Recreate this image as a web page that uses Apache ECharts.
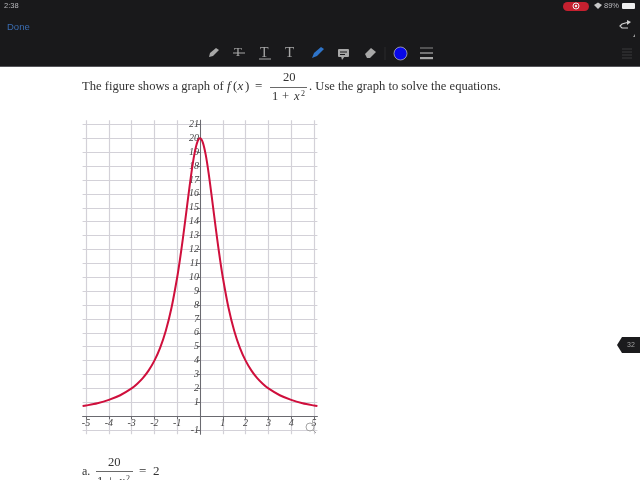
<!DOCTYPE html>
<html>
<head>
<meta charset="utf-8">
<script src="https://cdn.jsdelivr.net/npm/echarts@6/dist/echarts.min.js"></script>
<style>
html, body { margin: 0; padding: 0; background: #fff; }
#main { width: 640px; height: 480px; }
</style>
</head>
<body>
<div id="main"></div>
<script>
var xValues = [-5.15, -5, -4.5, -4, -3.5, -3, -2.75, -2.5, -2.25, -2, -1.75, -1.5, -1.25, -1, -0.875, -0.75, -0.625, -0.5, -0.375, -0.25, -0.125, 0,
  0.125, 0.25, 0.375, 0.5, 0.625, 0.75, 0.875, 1, 1.25, 1.5, 1.75, 2, 2.25, 2.5, 2.75, 3, 3.5, 4, 4.5, 5, 5.15]
var yValues = [0.73, 0.77, 0.94, 1.18, 1.51, 2, 2.34, 2.76, 3.3, 4, 4.92, 6.15, 7.8, 10, 11.33, 12.8, 14.38, 16, 17.53, 18.82, 19.69, 20,
  19.69, 18.82, 17.53, 16, 14.38, 12.8, 11.33, 10, 7.8, 6.15, 4.92, 4, 3.3, 2.76, 2.34, 2, 1.51, 1.18, 0.94, 0.77, 0.73]
var xTicks = [-5, -4, -3, -2, -1, 0, 1, 2, 3, 4, 5]
var xLabels = [-5, -4, -3, -2, -1, 1, 2, 3, 4, 5]
var yTicks = [-1, 0, 1, 2, 3, 4, 5, 6, 7, 8, 9, 10, 11, 12, 13, 14, 15, 16, 17, 18, 19, 20, 21]
var yLabels = [-1, 1, 2, 3, 4, 5, 6, 7, 8, 9, 10, 11, 12, 13, 14, 15, 16, 17, 18, 19, 20, 21]

var serif = "'Liberation Serif', serif"
var sans = "'Liberation Sans', sans-serif"

function txt(x, y, text, font, color, size, extra) {
  return {
    type: "text", x: x, y: y, z: 10,
    style: Object.assign({ text: text, fontFamily: font, fontSize: size, fill: color, textVerticalAlign: "middle" }, extra || {})
  }
}
function box(x, y, w, h, color, r) {
  return { type: "rect", z: 9, shape: { x: x, y: y, width: w, height: h, r: r || 0 }, style: { fill: color } }
}
function seg(x1, y1, x2, y2, color, w) {
  return { type: "line", z: 10, shape: { x1: x1, y1: y1, x2: x2, y2: y2 }, style: { stroke: color, lineWidth: w } }
}
function poly(points, color) {
  return { type: "polygon", z: 10, shape: { points: points }, style: { fill: color } }
}

var chrome = [
  // top bar
  box(0, 0, 640, 66, "#19191b"),
  box(0, 66, 640, 1, "#55555a"),
  txt(4, 6, "2:38", sans, "#b9b9bd", 7.5),
  txt(7, 27, "Done", sans, "#3a6cb0", 9.5),
  box(563, 2, 26, 9, "#c5202f", 4.5),
  { type: "circle", z: 10, shape: { cx: 576, cy: 6, r: 3 }, style: { fill: "#c5202f", stroke: "#eeeeee", lineWidth: 1 } },
  { type: "circle", z: 11, shape: { cx: 576, cy: 6, r: 1.2 }, style: { fill: "#eeeeee" } },
  poly([[594, 5], [598, 2.5], [602, 5], [598, 9]], "#c8c8c8"),
  txt(604, 6, "89%", sans, "#b9b9bd", 7.5),
  box(622, 3, 13, 6, "#eeeeee", 1),
  // undo arrow
  { type: "polyline", z: 10, shape: { points: [[629, 22], [622, 24], [620, 26], [622, 28], [628, 28]] }, style: { stroke: "#cfcfcf", lineWidth: 1.2, fill: "none" } },
  poly([[627, 20], [631, 22], [627, 25]], "#cfcfcf"),
  poly([[633, 37], [635, 34], [635, 37]], "#9a9a9a"),
  // tool icons
  poly([[209, 57], [210, 53], [216, 48], [219, 50], [213, 56]], "#a8a8a8"),
  txt(234, 53, "T", serif, "#a8a8a8", 13),
  seg(233, 53, 245, 53, "#a8a8a8", 1),
  txt(260, 53, "T", serif, "#a8a8a8", 14),
  seg(259, 59, 271, 59, "#a8a8a8", 1),
  txt(285, 53, "T", serif, "#a8a8a8", 15),
  poly([[312, 58], [314, 53], [321, 47], [324, 49], [317, 56]], "#2e74c9"),
  box(338, 49, 11, 8, "#a8a8a8", 1),
  poly([[341, 56], [345, 56], [342, 60]], "#a8a8a8"),
  seg(340, 52, 347, 52, "#19191b", 1),
  seg(340, 54.5, 345, 54.5, "#19191b", 1),
  poly([[365, 54], [371, 48], [376, 52], [370, 58], [367, 58]], "#a8a8a8"),
  seg(385, 47, 385, 60, "#2a2a2c", 1),
  { type: "circle", z: 10, shape: { cx: 400.5, cy: 53.5, r: 6.5 }, style: { fill: "#0808e8", stroke: "#c4c4c8", lineWidth: 0.7 } },
  seg(420, 48, 433, 48, "#a8a8a8", 0.8),
  seg(420, 53, 433, 53, "#a8a8a8", 1.3),
  box(420, 57, 13, 2.2, "#a8a8a8"),
  seg(622, 49, 632, 49, "#3a3a3c", 1),
  seg(622, 52, 632, 52, "#3a3a3c", 1),
  seg(622, 55, 632, 55, "#3a3a3c", 1),
  seg(622, 58, 632, 58, "#3a3a3c", 1),
  // question text
  txt(82, 87, "The figure shows a graph of", serif, "#333", 12.6),
  txt(227, 87, "f", serif, "#333", 13, { fontStyle: "italic" }),
  txt(233, 87, "(", serif, "#333", 13),
  txt(237.5, 87, "x", serif, "#333", 13, { fontStyle: "italic" }),
  txt(245, 87, ")", serif, "#333", 13),
  txt(255, 87, "=", serif, "#333", 13),
  txt(283, 78, "20", serif, "#333", 12.6),
  seg(270, 87.5, 307, 87.5, "#444", 0.8),
  txt(272, 97, "1", serif, "#333", 12.6),
  txt(282, 97, "+", serif, "#333", 12.6),
  txt(294, 97, "x", serif, "#333", 12.6, { fontStyle: "italic" }),
  txt(301, 94, "2", serif, "#333", 8),
  txt(309, 87, ". Use the graph to solve the equations.", serif, "#333", 12.6),
  // part a
  txt(82, 472, "a.", serif, "#333", 12),
  txt(108, 463, "20", serif, "#333", 12.6),
  seg(96, 471.5, 133, 471.5, "#444", 0.8),
  txt(97, 482, "1", serif, "#333", 12.6),
  txt(107, 482, "+", serif, "#333", 12.6),
  txt(119, 482, "x", serif, "#333", 12.6, { fontStyle: "italic" }),
  txt(126, 479, "2", serif, "#333", 8),
  txt(139, 472, "=", serif, "#333", 13),
  txt(153, 472, "2", serif, "#333", 13),
  // page badge
  poly([[617, 345], [622, 337], [640, 337], [640, 353], [622, 353]], "#1b1b1d"),
  txt(627, 345, "32", sans, "#a0a0a0", 7),
  // magnifier
  { type: "circle", z: 10, shape: { cx: 310, cy: 427, r: 4 }, style: { fill: "none", stroke: "#a5a5a5", lineWidth: 1 } },
  seg(313, 430, 316, 433, "#a5a5a5", 1)
]

var chart = echarts.init(document.getElementById("main"))
var option = {
  animation: false,
  backgroundColor: "#fff",
  grid: { left: 82.6, top: 120.2, width: 234.8, height: 314.1, containLabel: false },
  xAxis: {
    type: "value",
    min: -5.15,
    max: 5.15,
    position: "bottom",
    offset: -18,
    axisLine: { onZero: false, lineStyle: { color: "#6a6a70", width: 1 } },
    axisTick: { customValues: xTicks, length: 3, lineStyle: { color: "#6a6a70" } },
    axisLabel: {
      customValues: xLabels, margin: 2, color: "#444", fontSize: 10,
      fontFamily: serif, fontStyle: "italic", hideOverlap: false
    },
    splitLine: { show: true, lineStyle: { color: "#d3d1d8", width: 1.2 } }
  },
  yAxis: {
    type: "value",
    min: -1.3,
    max: 21.3,
    position: "left",
    offset: -117.4,
    axisLine: { onZero: false, lineStyle: { color: "#6a6a70", width: 1 } },
    axisTick: { customValues: yTicks, length: 3, lineStyle: { color: "#6a6a70" } },
    axisLabel: {
      customValues: yLabels, margin: 1, color: "#444", fontSize: 10,
      fontFamily: serif, fontStyle: "italic", hideOverlap: false
    },
    splitLine: { show: true, lineStyle: { color: "#d3d1d8", width: 1.2 } }
  },
  series: [
    {
      type: "line",
      data: xValues.map(function (x, i) { return [x, yValues[i]] }),
      smooth: 0.3,
      symbol: "none",
      clip: false,
      z: 5,
      lineStyle: { color: "#cf0f3c", width: 2 }
    }
  ],
  graphic: { elements: chrome }
}
chart.setOption(option)
</script>
</body>
</html>
